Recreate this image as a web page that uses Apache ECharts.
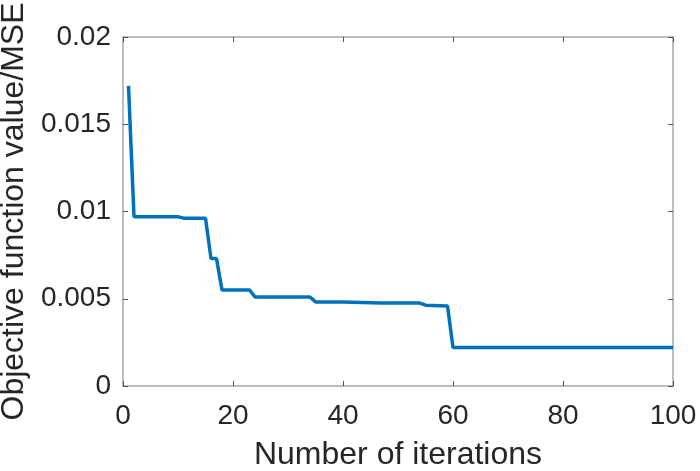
<!DOCTYPE html>
<html><head><meta charset="utf-8">
<script src="https://cdn.jsdelivr.net/npm/echarts@6/dist/echarts.min.js"></script>
<style>html,body{margin:0;padding:0;background:#fff}#c{width:700px;height:471px}</style>
</head><body><div id="c"></div>
<script>
var iterations = [1, 2, 10, 11, 15, 16, 17, 18, 23, 24, 34, 35, 40, 47, 54, 55, 59, 60, 100];
var mseValues = [0.0172, 0.0097, 0.0097, 0.00962, 0.00962, 0.0073, 0.0073, 0.0055, 0.0055, 0.0051, 0.0051, 0.00482, 0.00481, 0.00475, 0.00475, 0.00463, 0.00458, 0.0022, 0.0022];
var yTickLabels = {0: '0', 0.005: '0.005', 0.01: '0.01', 0.015: '0.015', 0.02: '0.02'};
var xName = 'Number of iterations';
var yName = 'Objective function value/MSE';

var pts = iterations.map(function (x, i) { return [x, mseValues[i]]; });
var axisCol = '#a6a6a6';
var txtCol = '#262626';
var font = 'Liberation Sans, Arial, sans-serif';
var chart = echarts.init(document.getElementById('c'));
chart.setOption({
  animation: false,
  grid: {left: 123, right: 27, top: 37, bottom: 85, containLabel: false, outerBoundsMode: 'none'},
  xAxis: [{
    type: 'value', min: 0, max: 100, interval: 20,
    name: xName, nameLocation: 'middle', nameGap: 53,
    nameTextStyle: {fontSize: 32, color: txtCol, fontFamily: font},
    axisLine: {show: true, onZero: false, lineStyle: {color: axisCol, width: 1.5}},
    axisTick: {show: true, inside: true, length: 5, lineStyle: {color: '#555'}},
    axisLabel: {fontSize: 28, color: txtCol, fontFamily: font, margin: 16},
    splitLine: {show: false}
  }, {
    type: 'value', min: 0, max: 100, interval: 20, position: 'top',
    axisLine: {show: true, onZero: false, lineStyle: {color: axisCol, width: 1.5}},
    axisTick: {show: true, inside: true, length: 5, lineStyle: {color: '#555'}},
    axisLabel: {show: false}, splitLine: {show: false}
  }],
  yAxis: [{
    type: 'value', min: 0, max: 0.02, interval: 0.005,
    name: yName, nameLocation: 'middle', nameGap: 87,
    nameTextStyle: {fontSize: 32, color: txtCol, fontFamily: font},
    axisLine: {show: true, onZero: false, lineStyle: {color: axisCol, width: 1.5}},
    axisTick: {show: true, inside: true, length: 5, lineStyle: {color: '#555'}},
    axisLabel: {fontSize: 28, color: txtCol, fontFamily: font, margin: 12,
      formatter: function (v) { var k = Math.round(v * 1000) / 1000; return yTickLabels[k] !== undefined ? yTickLabels[k] : String(k); }},
    splitLine: {show: false}
  }, {
    type: 'value', min: 0, max: 0.02, interval: 0.005, position: 'right',
    axisLine: {show: true, onZero: false, lineStyle: {color: axisCol, width: 1.5}},
    axisTick: {show: true, inside: true, length: 5, lineStyle: {color: '#555'}},
    axisLabel: {show: false}, splitLine: {show: false}
  }],
  series: [{
    type: 'line', data: pts, showSymbol: false, symbol: 'none',
    lineStyle: {color: '#0072BD', width: 3.5}
  }, {
    type: 'line', xAxisIndex: 1, yAxisIndex: 1, data: [], silent: true
  }]
});
</script></body></html>
